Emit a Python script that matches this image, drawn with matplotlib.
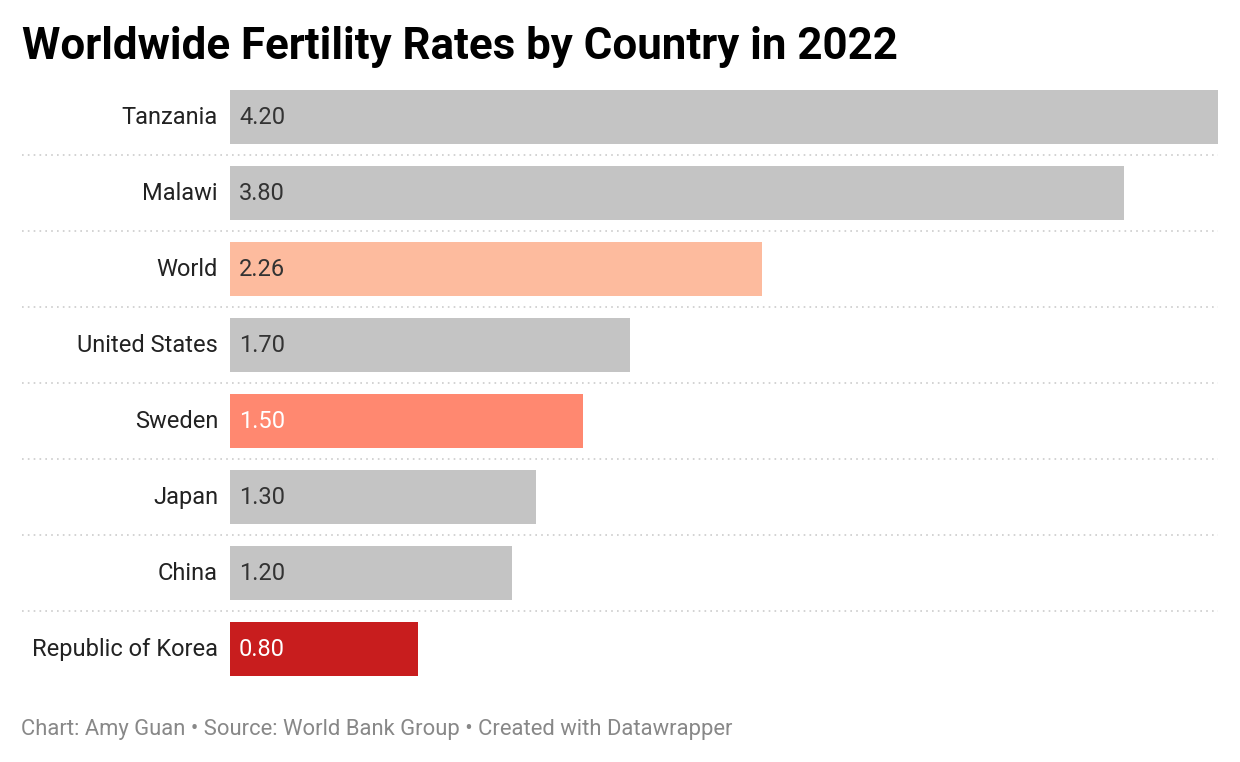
import matplotlib
matplotlib.use("Agg")
import matplotlib.pyplot as plt

plt.rcParams['font.family'] = ['Roboto', 'DejaVu Sans']

# datos
countries = ['Tanzania', 'Malawi', 'World', 'United States', 'Sweden', 'Japan', 'China', 'Republic of Korea']
rates = [4.20, 3.80, 2.26, 1.70, 1.50, 1.30, 1.20, 0.80]
bar_colors = ['#c4c4c4', '#c4c4c4', '#fdbb9e', '#c4c4c4', '#ff8870', '#c4c4c4', '#c4c4c4', '#c81d1e']
value_colors = ['#333333', '#333333', '#333333', '#333333', '#ffffff', '#333333', '#333333', '#ffffff']

W, H = 1240, 762
fig = plt.figure(figsize=(W / 100, H / 100), dpi=100)
ax = fig.add_axes([230 / W, 1 - 686.5 / H, 988 / W, 608 / H])

y = range(len(countries))
ax.barh(y, rates, height=54 / 76, color=bar_colors)
ax.set_xlim(0, 4.2)
ax.set_ylim(len(countries) - 0.5, -0.5)
ax.axis('off')

# etiquetas
for i, (c, r, vc) in enumerate(zip(countries, rates, value_colors)):
    ax.text(-12 / 988 * 4.2, i + 0.015, c, ha='right', va='center', fontsize=17, color='#222222')
    ax.text(9 / 988 * 4.2, i + 0.015, f'{r:.2f}', ha='left', va='center', fontsize=17, color=vc)

# separadores punteados
for i in range(len(countries) - 1):
    ax.axhline(i + 0.5, xmin=(22 - 230) / 988, xmax=1, color='#cccccc',
               lw=1.2, ls=(0, (1, 2.5)), clip_on=False)

fig.text(22 / W, 1 - 47 / H, 'Worldwide Fertility Rates by Country in 2022',
         fontsize=31.6, fontweight='bold', color='#000000', va='center', ha='left')
fig.text(21 / W, 1 - 730 / H, 'Chart: Amy Guan • Source: World Bank Group • Created with Datawrapper',
         fontsize=15.8, color='#888888', va='center', ha='left')

fig.savefig('out.png', dpi=100, facecolor='white')
